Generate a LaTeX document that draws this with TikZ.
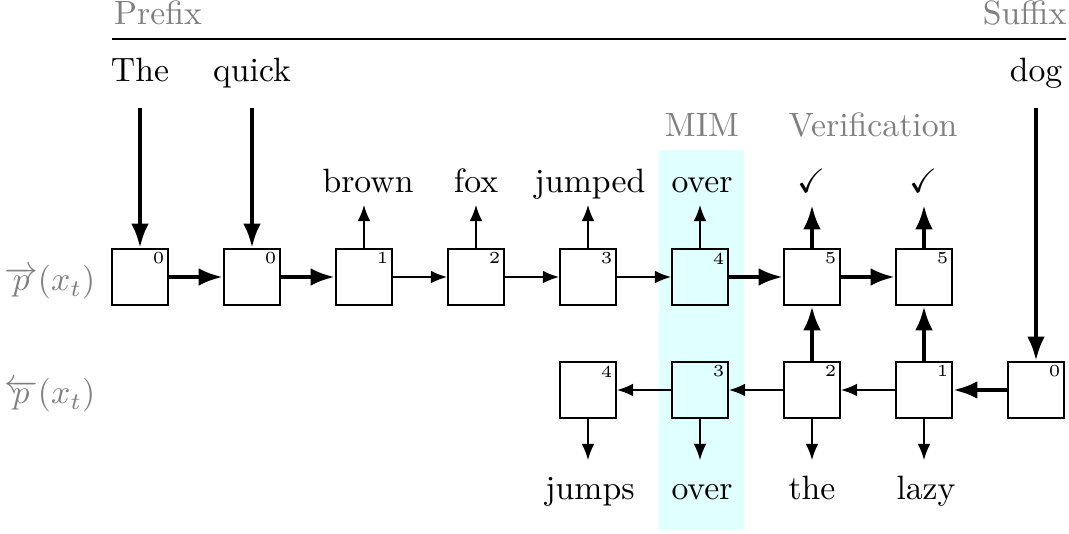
\documentclass[tikz,border=0pt]{standalone}
\usepackage{amssymb}
\usetikzlibrary{arrows.meta}
\definecolor{mimcyan}{RGB}{224,255,255}
\begin{document}
\begin{tikzpicture}[x=0.010428cm,y=-0.010428cm,
  cell/.style={draw,semithick,minimum size=0.584cm,inner sep=0pt},
  num/.style={font=\tiny,anchor=north east,inner sep=1.2pt},
  word/.style={anchor=base,inner sep=0pt},
  glabel/.style={anchor=base,inner sep=0pt,text=gray},
  thinarr/.style={-{Latex[length=4.8pt,width=3.8pt]},line width=0.45pt},
  thickarr/.style={-{Latex[length=7.2pt,width=5.2pt]},line width=1.25pt}]
\useasboundingbox (0,0) rectangle (1069,534);
% MIM band
\fill[mimcyan] (659,150) rectangle (744,530);
% header
\node[glabel] (prefix) at (158,25) {Prefix};
\node[glabel,anchor=base east] (suffix) at (1067,25) {Suffix};
\draw[semithick] (112,39) -- (1066,39);
\node[glabel] (mim) at (702,137) {MIM};
\node[glabel] (verif) at (873,137) {Verification};
% input words
\node[word] (wThe) at (140,82) {The};
\node[word] (wquick) at (252,82) {quick};
\node[word] (wdog) at (1036,82) {dog};
% row labels
\node[anchor=base east,inner sep=0pt,text=gray] (lf) at (96,291) {$\overrightarrow{p}(x_t)$};
\node[anchor=base east,inner sep=0pt,text=gray] (lb) at (96,404) {$\overleftarrow{p}(x_t)$};
% forward boxes
\foreach \i/\x/\n in {1/140/0,2/252/0,3/364/1,4/476/2,5/588/3,6/700/4,7/812/5,8/924/5}{
  \node[cell] (f\i) at (\x,277) {};
  \node[num] (nf\i) at (f\i.north east) {\n};
}
% backward boxes
\foreach \i/\x/\n in {5/588/4,6/700/3,7/812/2,8/924/1,9/1036/0}{
  \node[cell] (b\i) at (\x,390) {};
  \node[num] (nb\i) at (b\i.north east) {\n};
}
% output words top
\node[word] (o3) at (368,193) {brown};
\node[word] (o4) at (476,193) {fox};
\node[word] (o5) at (590,193) {jumped};
\node[word] (o6) at (702,193) {over};
\node[word] (o7) at (812,193) {$\checkmark$};
\node[word] (o8) at (924,193) {$\checkmark$};
% output words bottom
\node[word] (u5) at (590,500) {jumps};
\node[word] (u6) at (702,500) {over};
\node[word] (u7) at (812,500) {the};
\node[word] (u8) at (926,500) {lazy};
% coordinates
\coordinate (i1) at (140,108);
\coordinate (i2) at (252,108);
\coordinate (i9) at (1036,108);
\foreach \i/\x in {3/364,4/476,5/588,6/700,7/812,8/924}{\coordinate (t\i) at (\x,205);}
\foreach \i/\x in {5/588,6/700,7/812,8/924}{\coordinate (d\i) at (\x,460);}
% input arrows
\draw[thickarr] (i1) -- (f1);
\draw[thickarr] (i2) -- (f2);
\draw[thickarr] (i9) -- (b9);
% forward chain
\draw[thickarr] (f1) -- (f2);
\draw[thickarr] (f2) -- (f3);
\draw[thinarr] (f3) -- (f4);
\draw[thinarr] (f4) -- (f5);
\draw[thinarr] (f5) -- (f6);
\draw[thickarr] (f6) -- (f7);
\draw[thickarr] (f7) -- (f8);
% backward chain
\draw[thickarr] (b9) -- (b8);
\draw[thinarr] (b8) -- (b7);
\draw[thinarr] (b7) -- (b6);
\draw[thinarr] (b6) -- (b5);
% outputs up
\foreach \i in {3,4,5,6}{\draw[thinarr] (f\i) -- (t\i);}
\draw[thickarr] (f7) -- (t7);
\draw[thickarr] (f8) -- (t8);
% verification
\draw[thickarr] (b7) -- (f7);
\draw[thickarr] (b8) -- (f8);
% outputs down
\foreach \i in {5,6,7,8}{\draw[thinarr] (b\i) -- (d\i);}
\end{tikzpicture}
\end{document}
